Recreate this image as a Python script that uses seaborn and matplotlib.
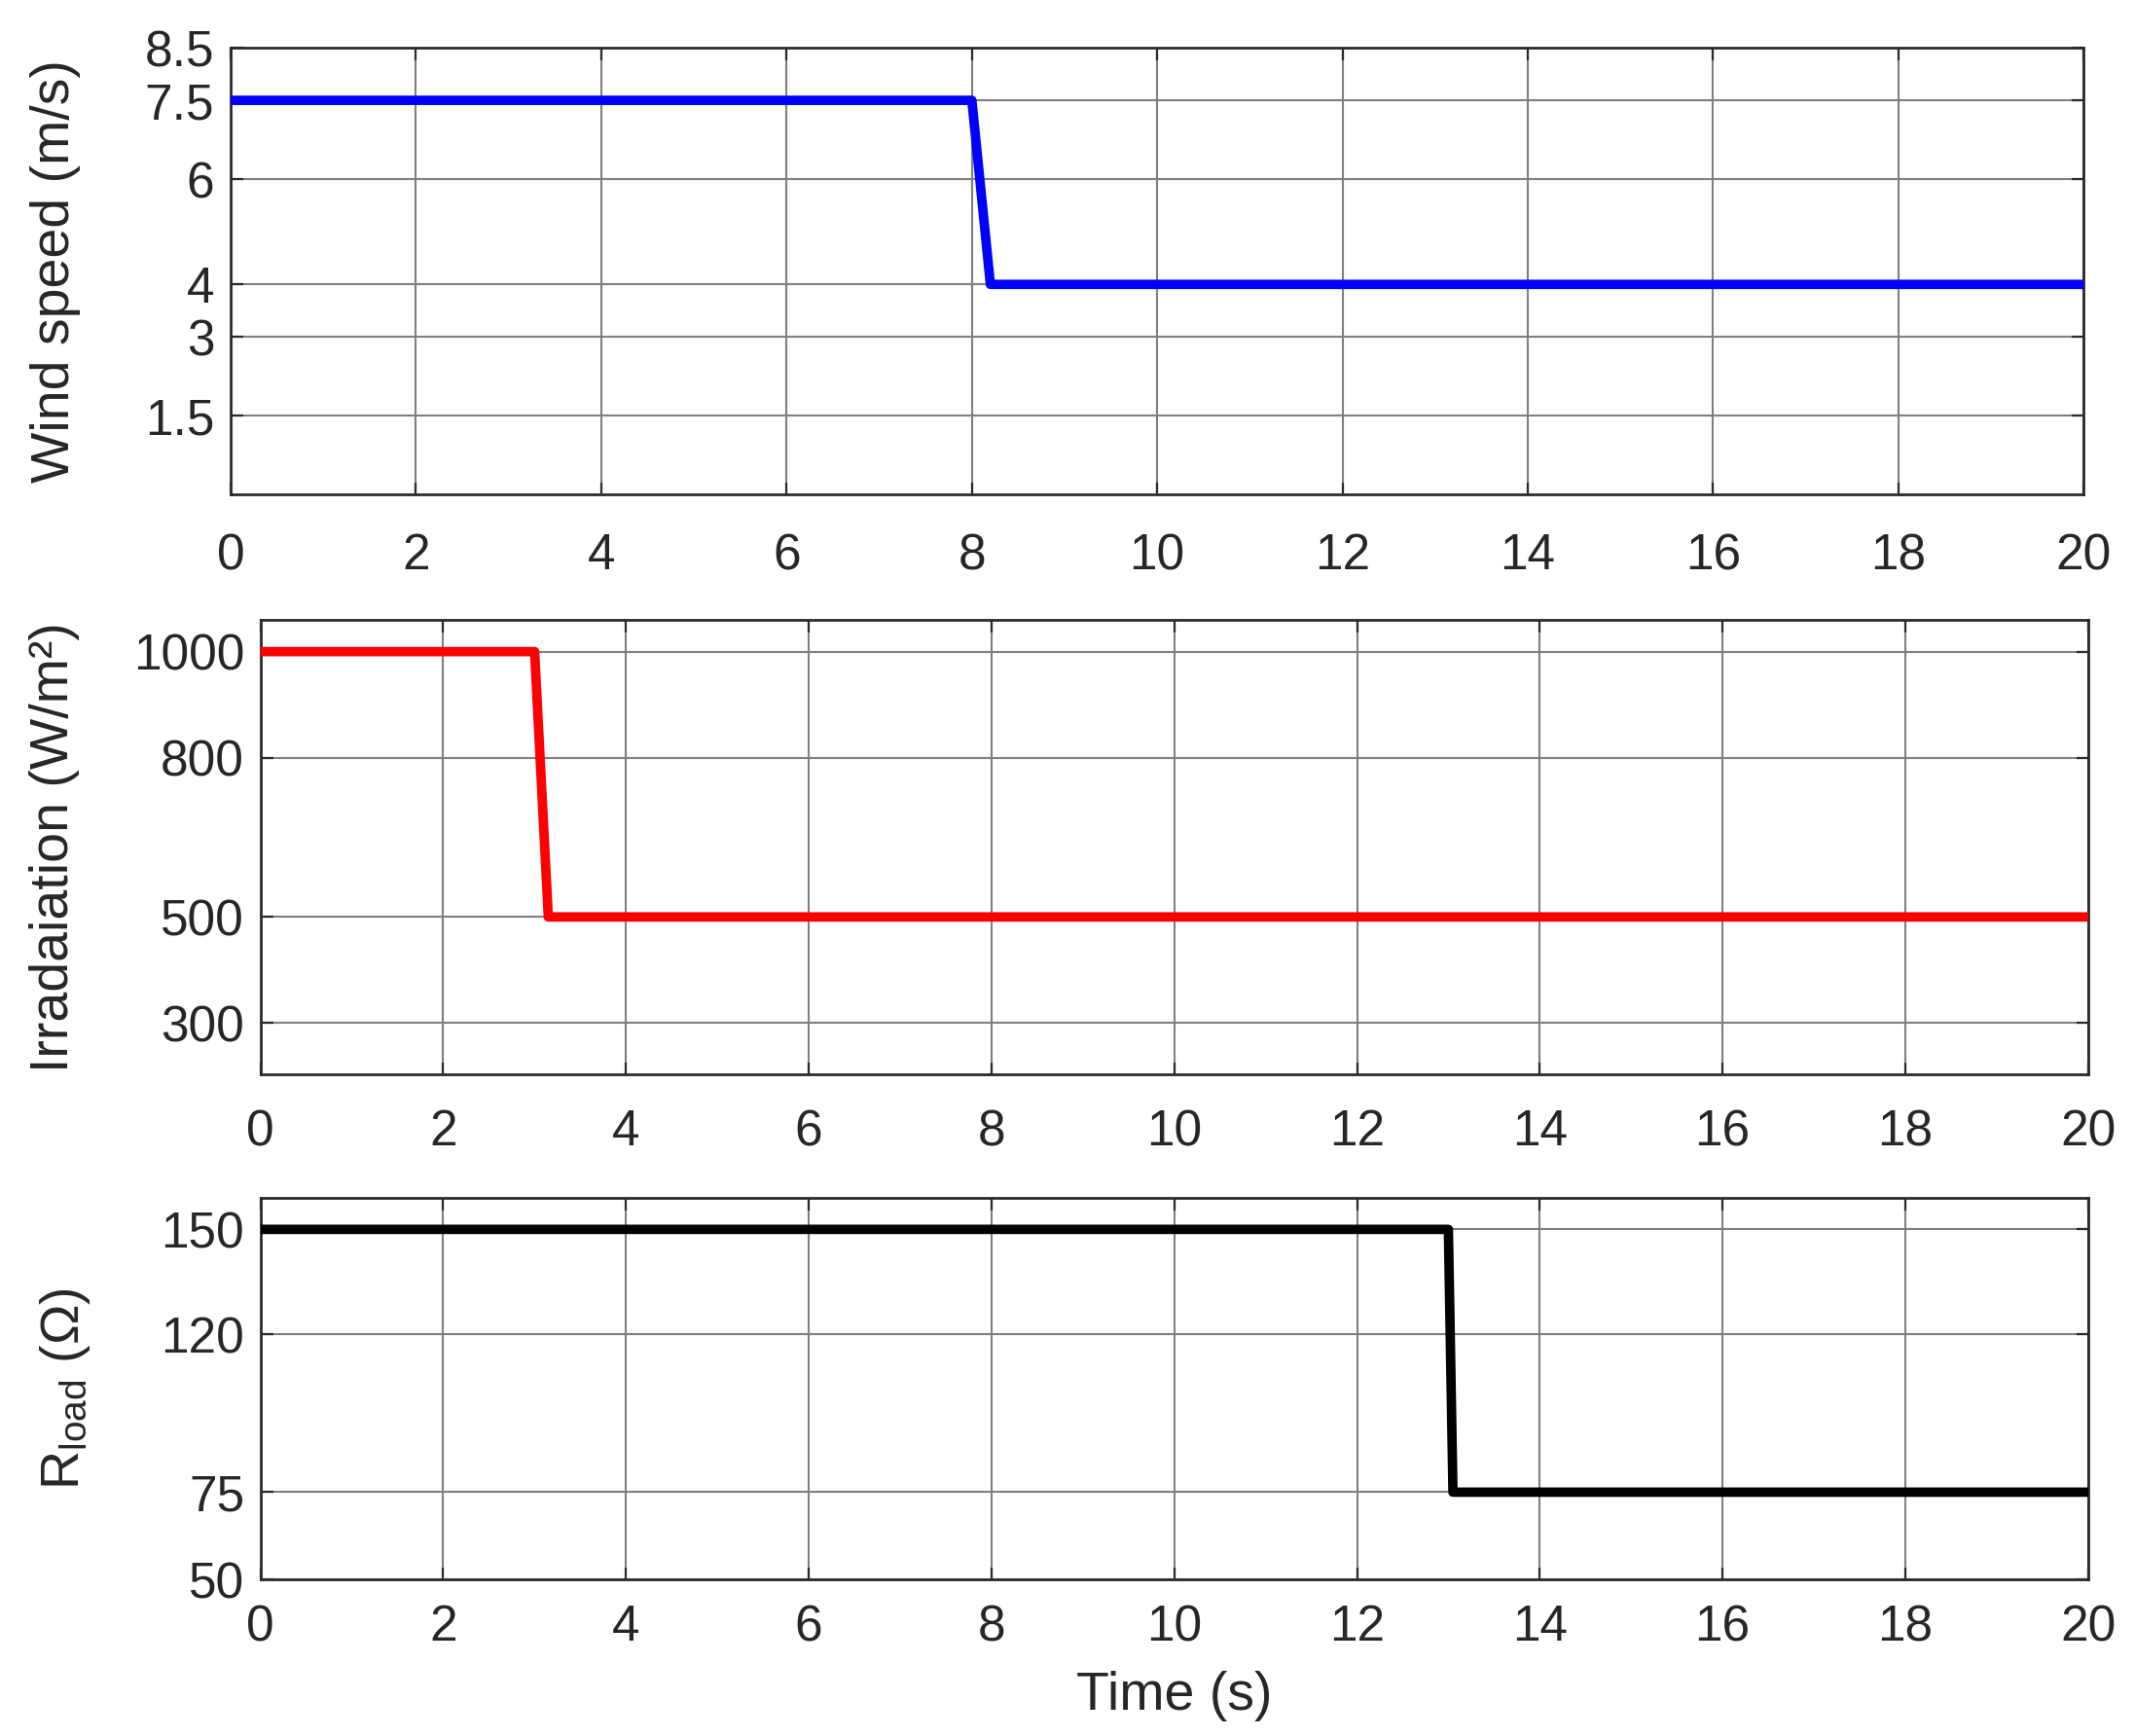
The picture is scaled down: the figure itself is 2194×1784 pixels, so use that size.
import matplotlib
matplotlib.use("Agg")
import matplotlib.pyplot as plt
import pandas as pd
import seaborn as sns

# ---------- datos ----------
time_wind = [0.0, 8.0, 8.2, 20.0]
wind_speed = [7.5, 7.5, 4.0, 4.0]

time_irr = [0.0, 3.0, 3.15, 20.0]
irradiation = [1000, 1000, 500, 500]

time_load = [0.0, 13.0, 13.05, 20.0]
r_load = [150, 150, 75, 75]

x_ticks = list(range(0, 21, 2))
wind_ticks = [1.5, 3, 4, 6, 7.5, 8.5]
irr_ticks = [300, 500, 800, 1000]
load_ticks = [50, 75, 120, 150]

TXT = "#262626"
TICK_FS = 37
LABEL_FS = 40

sns.set_theme(style="whitegrid")
plt.rcParams["font.family"] = ["Liberation Sans", "DejaVu Sans"]
plt.rcParams["mathtext.fontset"] = "custom"
plt.rcParams["mathtext.rm"] = "Liberation Sans"
plt.rcParams["mathtext.it"] = "Liberation Sans:italic"


def style_axis(ax, ylim, yticks, xpad, ypad):
    ax.set_xlim(0, 20)
    ax.set_ylim(*ylim)
    ax.set_xticks(x_ticks)
    ax.set_yticks(yticks)
    ax.set_yticklabels([f"{t:g}" for t in yticks])
    ax.grid(True, color="#7f7f7f", linewidth=1.5)
    for s in ax.spines.values():
        s.set_visible(True)
        s.set_color("#2a2a2a")
        s.set_linewidth(2.0)
    ax.tick_params(axis="both", which="both", direction="in", length=9, width=1.6,
                   color="#2a2a2a", labelcolor=TXT, labelsize=TICK_FS,
                   top=True, right=True, bottom=True, left=True)
    ax.tick_params(axis="x", pad=xpad)
    ax.tick_params(axis="y", pad=ypad)
    ax.set_xlabel("")


fig = plt.figure(figsize=(21.94, 17.84), dpi=100)
ax1 = fig.add_axes([0.108, 0.715, 0.976 - 0.108, 0.9725 - 0.715])
ax2 = fig.add_axes([0.122, 0.381, 0.978 - 0.122, 0.643 - 0.381])
ax3 = fig.add_axes([0.122, 0.090, 0.978 - 0.122, 0.310 - 0.090])

d1 = pd.DataFrame({"t": time_wind, "v": wind_speed})
d2 = pd.DataFrame({"t": time_irr, "v": irradiation})
d3 = pd.DataFrame({"t": time_load, "v": r_load})

sns.lineplot(data=d1, x="t", y="v", ax=ax1, color="#0000ff", linewidth=7, zorder=3)
sns.lineplot(data=d2, x="t", y="v", ax=ax2, color="#ff0000", linewidth=7, zorder=3)
sns.lineplot(data=d3, x="t", y="v", ax=ax3, color="#000000", linewidth=7, zorder=3)

style_axis(ax1, (0, 8.5), wind_ticks, xpad=28, ypad=12)
style_axis(ax2, (203, 1060), irr_ticks, xpad=25, ypad=12)
style_axis(ax3, (50, 159), load_ticks, xpad=18, ypad=12)

ax1.set_ylabel("Wind speed (m/s)", fontsize=LABEL_FS, color=TXT)
ax2.set_ylabel("Irradaiation (W/m²)", fontsize=LABEL_FS, color=TXT)
ax3.set_ylabel(r"R$_{\mathrm{load}}$ ($\Omega$)", fontsize=LABEL_FS, color=TXT)
ax1.yaxis.set_label_coords(-0.081, 0.5)
ax2.yaxis.set_label_coords(-0.099, 0.5)
ax3.yaxis.set_label_coords(-0.092, 0.5)

ax3.set_xlabel("Time (s)", fontsize=LABEL_FS, color=TXT, labelpad=14)

fig.savefig("out.png", dpi=100, facecolor="white")
